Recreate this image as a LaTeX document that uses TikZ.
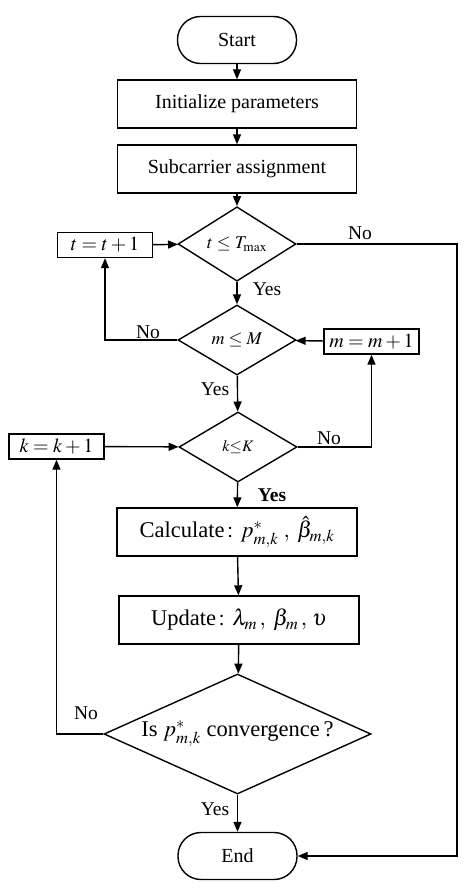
\documentclass[tikz,border=0pt]{standalone}
\usepackage{mathptmx}
\usepackage{fontspec}
\setmainfont{Liberation Serif}
\usetikzlibrary{positioning,
        shapes,
        arrows.meta}

\begin{document}
\begin{tikzpicture}[x=1pt,y=-1pt,line width=1.4pt,
    terminal/.style={draw,rounded corners=23pt,minimum width=119pt,minimum height=47pt,font=\fontsize{20}{24}\selectfont},
    procbox/.style={draw,minimum width=239pt,minimum height=48pt,font=\fontsize{20}{24}\selectfont},
    bigbox/.style={procbox,font=\fontsize{22.5}{26}\selectfont},
    incbox/.style={draw,minimum width=95pt,minimum height=25pt,inner sep=0pt,font=\fontsize{20}{24}\selectfont},
    decision/.style={draw,diamond,inner sep=0pt,minimum width=118pt,minimum height=70pt,font=\fontsize{18}{22}\selectfont},
    flow/.style={-{Triangle[length=10pt,width=8pt]}},
    lbl/.style={font=\fontsize{19.5}{22}\selectfont,inner sep=0pt}]
    \useasboundingbox (0,0) rectangle (474,888);

    \node [terminal] (start) at (237,40) {Start};
    \node [procbox] (init) at (237,104) {Initialize parameters};
    \node [procbox] (assign) at (237,169) {Subcarrier assignment};
    \node [decision] (dt) at (237,244) {$t\leq T_{\max}$};
    \node [incbox] (tinc) at (105,245) {$t=t+1$};
    \node [decision] (dm) at (237,340) {$m\leq M$};
    \node [incbox] (minc) at (371.5,341.5) {$m=m+1$};
    \node [decision,font=\fontsize{16}{20}\selectfont] (dk) at (238,447) {$k{\leq}K$};
    \node [incbox] (kinc) at (56.5,446.5) {$k=k+1$};
    \node [bigbox,minimum width=240pt] (calc) at (237,532) {Calculate$\,:\,p^{*}_{m,k}\;,\;\hat{\beta}_{m,k}$};
    \node [bigbox,minimum width=240pt] (upd) at (239,620) {Update$\,:\,\lambda_{m}\,,\;\beta_{m}\,,\,\upsilon$};
    \node [decision,aspect=2.2,minimum width=267pt,minimum height=120pt,font=\fontsize{22.5}{26}\selectfont] (conv) at (237.5,734) {Is $p^{*}_{m,k}$ convergence\,?};
    \node [terminal] (end) at (237.5,856) {End};
    \coordinate (rt) at (457,244);

    \draw [flow] (start) -- (init);
    \draw [flow] (init) -- (assign);
    \draw [flow] (assign) -- (dt);
    \draw [flow] (dt) -- (dm);
    \draw [flow] (dm) -- (dk);
    \draw [flow] (dk) -- (calc);
    \draw [flow] (calc) -- (upd);
    \draw [flow] (upd) -- (conv);
    \draw [flow] (conv) -- (end);

    \draw [flow] (dt.east) -- (rt) |- (end.east);
    \draw [flow] (tinc) -- (dt);
    \draw [flow] (dm.west) -| (tinc.south);
    \draw [flow] (minc) -- (dm);
    \draw [flow] (dk.east) -| (minc.south);
    \draw [flow] (kinc) -- (dk);
    \draw [flow] (conv.west) -| (kinc.south);

    \node [lbl] at (267,289) {Yes};
    \node [lbl] at (360,233) {No};
    \node [lbl] at (148,332) {No};
    \node [lbl] at (215,389) {Yes};
    \node [lbl] at (329,438) {No};
    \node [lbl,font=\fontsize{19.5}{22}\selectfont\bfseries] at (272,495) {Yes};
    \node [lbl] at (86,713) {No};
    \node [lbl] at (215,809) {Yes};
\end{tikzpicture}
\end{document}
